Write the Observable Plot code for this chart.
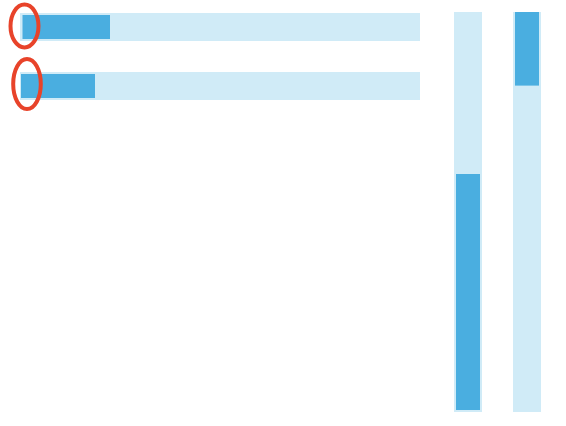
<!DOCTYPE html>
<html>
<head>
<meta charset="utf-8">
<script src="https://cdn.jsdelivr.net/npm/d3@7"></script>
<script src="https://cdn.jsdelivr.net/npm/@observablehq/plot@0.6"></script>
<style>
html, body { margin: 0; padding: 0; background: #ffffff; }
#chart { display: flex; width: 566px; height: 426px; }
#chart svg { display: block; flex: none; }
</style>
</head>
<body>
<div id="chart"></div>
<script>
// ---- data ----
const hBars = ["A", "B"];
const hValues = [22.5, 18.75];
const vBars = ["C", "D"];
const vValues = [59.5, 18.4];
const vFrom = ["bottom", "top"];
const highlighted = ["A", "B"];
const maxValue = 100;

// ---- styles ----
const trackColor = "#d0ebf7";
const fillColor = "#4aaee0";
const markColor = "#e8432a";

const hData = hBars.map((bar, i) => ({bar, value: hValues[i]}));
const vData = vBars.map((bar, i) => ({bar, value: vValues[i], from: vFrom[i]}));
const hl = highlighted.map((bar) => ({bar, x: 0}));

function ellipseSymbol(rx, ry) {
  const k = 0.5522847498;
  return {
    draw(ctx) {
      ctx.moveTo(rx, 0);
      ctx.bezierCurveTo(rx, ry * k, rx * k, ry, 0, ry);
      ctx.bezierCurveTo(-rx * k, ry, -rx, ry * k, -rx, 0);
      ctx.bezierCurveTo(-rx, -ry * k, -rx * k, -ry, 0, -ry);
      ctx.bezierCurveTo(rx * k, -ry, rx, -ry * k, rx, 0);
      ctx.closePath();
    }
  };
}

const left = Plot.plot({
  width: 440,
  height: 426,
  margin: 0,
  style: {background: "transparent", overflow: "visible"},
  x: {domain: [0, maxValue], range: [20, 420], axis: null},
  y: {domain: hBars, range: [12, 100], paddingInner: 32 / 60, paddingOuter: 0, axis: null},
  marks: [
    Plot.barX(hData, {y: "bar", x1: 0, x2: maxValue, fill: trackColor}),
    Plot.barX(hData, {filter: (d) => d.bar === hBars[0], y: "bar", x1: 0, x2: "value", fill: fillColor, insetTop: 2, insetBottom: 2, insetLeft: 2.5}),
    Plot.barX(hData, {filter: (d) => d.bar === hBars[1], y: "bar", x1: 0, x2: "value", fill: fillColor, insetTop: 2, insetBottom: 2, insetLeft: 1}),
    Plot.dot(hl.slice(0, 1), {x: "x", y: "bar", dx: 4, dy: -1.5, r: 10, symbol: ellipseSymbol(14, 21.5), fill: "none", stroke: markColor, strokeWidth: 4}),
    Plot.dot(hl.slice(1, 2), {x: "x", y: "bar", dx: 6.5, dy: -2.5, r: 10, symbol: ellipseSymbol(13.8, 25), fill: "none", stroke: markColor, strokeWidth: 4})
  ]
});

const right = Plot.plot({
  width: 126,
  height: 426,
  margin: 0,
  style: {background: "transparent"},
  x: {domain: vBars, range: [13, 101], paddingInner: 32 / 60, paddingOuter: 0, axis: null},
  y: {domain: [0, maxValue], range: [412, 12], axis: null},
  marks: [
    Plot.barY(vData, {x: "bar", y1: 0, y2: maxValue, fill: trackColor}),
    Plot.barY(vData, {filter: (d) => d.from === "bottom", x: "bar", y1: 0, y2: "value", fill: fillColor, insetLeft: 2, insetRight: 2, insetBottom: 2}),
    Plot.barY(vData, {filter: (d) => d.from === "top", x: "bar", y1: maxValue, y2: (d) => maxValue - d.value, fill: fillColor, insetLeft: 2, insetRight: 2})
  ]
});

const chart = document.getElementById("chart");
chart.append(left, right);
</script>
</body>
</html>
